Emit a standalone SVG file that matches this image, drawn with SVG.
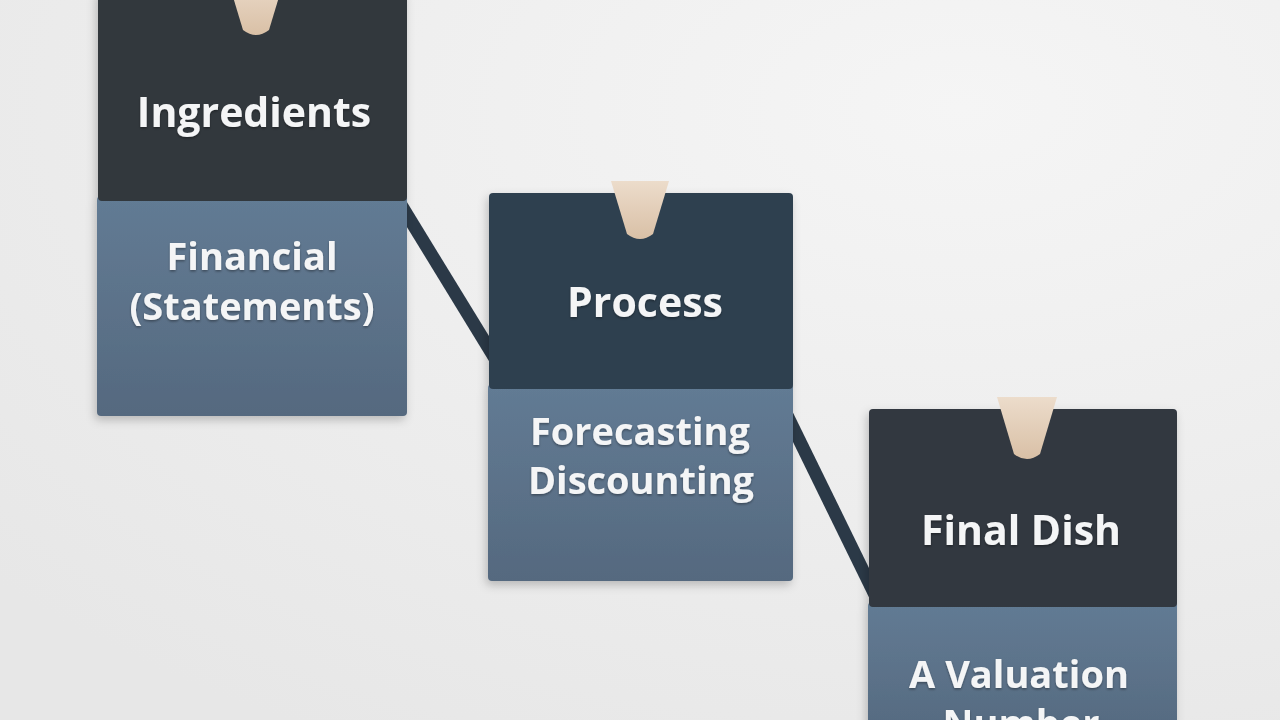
<svg xmlns="http://www.w3.org/2000/svg" width="1280" height="720" viewBox="0 0 1280 720">
  <defs>
    <radialGradient id="bg" cx="0.75" cy="0.15" r="1">
      <stop offset="0" stop-color="#f5f5f5"/>
      <stop offset="1" stop-color="#e7e7e7"/>
    </radialGradient>
    <linearGradient id="low" x1="0" y1="0" x2="0" y2="1">
      <stop offset="0" stop-color="#627b94"/>
      <stop offset="1" stop-color="#55697f"/>
    </linearGradient>
    <linearGradient id="peg" x1="0" y1="0" x2="0" y2="1">
      <stop offset="0" stop-color="#ecdccb"/>
      <stop offset="1" stop-color="#d9c0a6"/>
    </linearGradient>
    <filter id="sh" x="-20%" y="-20%" width="140%" height="140%">
      <feDropShadow dx="-2" dy="4" stdDeviation="5" flood-color="#000" flood-opacity="0.22"/>
    </filter>
    <filter id="tsh" x="-10%" y="-30%" width="120%" height="160%">
      <feDropShadow dx="0" dy="1.5" stdDeviation="1" flood-color="#000" flood-opacity="0.35"/>
    </filter>
  </defs>
  <style>
    .dark1 { fill: #30373e; }
    .dark2 { fill: #2f4050; }
    .dark3 { fill: #30373f; }
    .low { fill: url(#low); }
    .peg { fill: url(#peg); }
    .t { font-family: "Open Sans", "Liberation Sans", sans-serif; font-weight: 700; font-size: 38px; fill: #f4f5f6; text-anchor: middle; filter: url(#tsh); }
    .h { font-size: 41px; }
    .conn { stroke: #2b3947; stroke-width: 13; stroke-linecap: butt; fill: none; }
  </style>
  <rect width="1280" height="720" fill="url(#bg)"/>

  <g id="connectors">
    <line class="conn" x1="398" y1="200" x2="496" y2="360"/>
    <line class="conn" x1="786" y1="413" x2="876" y2="597"/>
  </g>

  <g id="card-ingredients">
    <g filter="url(#sh)">
      <rect class="low" x="97" y="196" width="310" height="220" rx="4"/>
      <rect class="dark1" x="98" y="-10" width="309" height="211" rx="4"/>
    </g>
    <path class="peg" d="M227,-23 L285,-23 L269,30 Q256,40 243,30 Z"/>
    <text class="t h" x="254" y="127">Ingredients</text>
    <text class="t" x="252" y="270">Financial</text>
    <text class="t" x="252" y="320">(Statements)</text>
  </g>

  <g id="card-process">
    <g filter="url(#sh)">
      <rect class="low" x="488" y="384" width="305" height="197" rx="4"/>
      <rect class="dark2" x="489" y="193" width="304" height="196" rx="4"/>
    </g>
    <path class="peg" d="M611,181 L669,181 L653,234 Q640,244 627,234 Z"/>
    <text class="t h" x="645" y="317">Process</text>
    <text class="t" x="640" y="445">Forecasting</text>
    <text class="t" x="641" y="494">Discounting</text>
  </g>

  <g id="card-final">
    <g filter="url(#sh)">
      <rect class="low" x="868" y="602" width="309" height="138" rx="4"/>
      <rect class="dark3" x="869" y="409" width="308" height="198" rx="4"/>
    </g>
    <path class="peg" d="M997,397 L1057,397 L1040,454 Q1027,464 1014,454 Z"/>
    <text class="t h" x="1021" y="545">Final Dish</text>
    <text class="t" x="1019" y="688">A Valuation</text>
    <text class="t" x="1021" y="737">Number</text>
  </g>
</svg>
